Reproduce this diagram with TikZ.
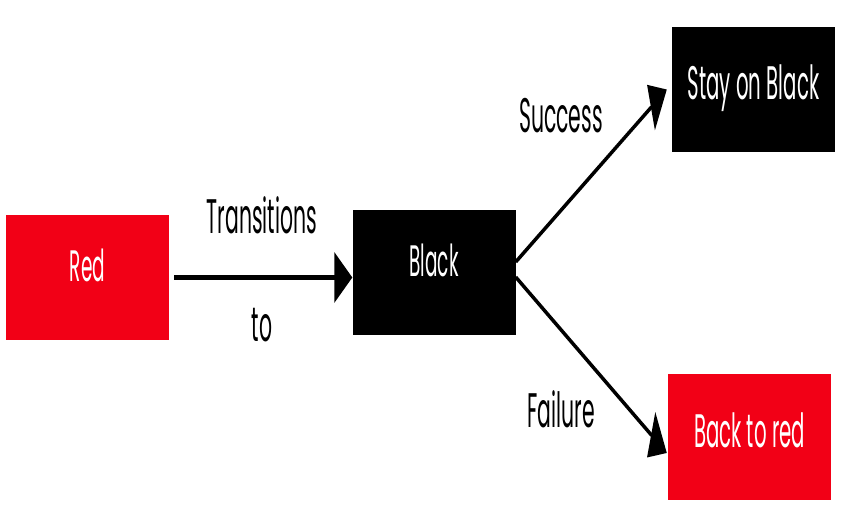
\documentclass[tikz,border=0pt]{standalone}
\usepackage{fontspec}
\setmainfont{Poppins}[FakeStretch=0.42]
\usetikzlibrary{arrows.meta}
\definecolor{statered}{RGB}{242,0,22}

\begin{document}
\begin{tikzpicture}[x=1pt, y=-1pt,
  state/.style={minimum width=163pt, minimum height=125pt, inner sep=0pt, text=white},
  redstate/.style={state, fill=statered},
  blackstate/.style={state, fill=black},
  small/.style={font=\fontsize{44}{46}\selectfont, text height=29pt, text depth=20pt},
  big/.style={font=\fontsize{47}{50}\selectfont, text height=33pt, text depth=12pt},
  lbl/.style={font=\fontsize{48.5}{52}\selectfont, anchor=base},
  trans/.style={line width=5pt, -{Triangle[length=18pt, width=50pt]}},
  uptrans/.style={line width=3.5pt, -{Triangle[length=24pt, width=35pt, slant=0.81]}},
  downtrans/.style={line width=3.5pt, -{Triangle[length=24pt, width=35pt, slant=-0.81]}}]

 % frame
 \useasboundingbox (0,0) rectangle (865,510);

 % states
 \node[redstate, small] (red) at (87.5,277.5) {Red};
 \node[blackstate, small] (black) at (434,272.5) {Black};
 \node[blackstate, big] (stay) at (753.5,89.5) {Stay on Black};
 \node[redstate, big] (back) at (749.5,437) {Back to red};

 % transitions
 \draw[trans] ([xshift=5pt]red.east) -- (red.east -| black.west);
 \draw[uptrans] ([yshift=10.5pt]black.east) -- ([xshift=-5pt]stay.west);
 \draw[downtrans] ([yshift=-4.5pt]black.east) -- ([xshift=-1pt,yshift=-16pt]back.west);

 % labels
 \node[lbl] (tr) at (262,234) {Transitions};
 \node[lbl] (to) at (262,342) {to};
 \node[lbl] (succ) at (561,133) {Success};
 \node[lbl] (fail) at (561,428) {Failure};
\end{tikzpicture}
\end{document}
